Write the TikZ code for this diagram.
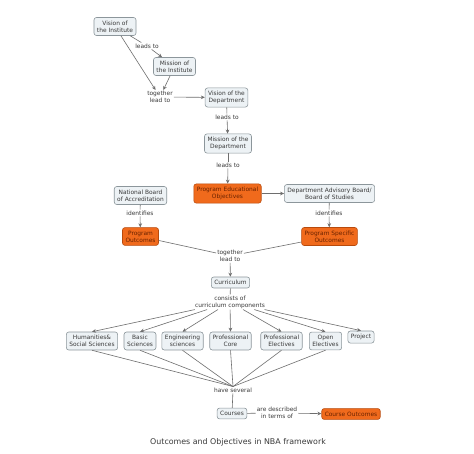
\documentclass[tikz,border=0pt]{standalone}
\usepackage{fontspec}
\setmainfont{DejaVu Sans}
\usepackage{tikz}
\usetikzlibrary{arrows.meta}

\definecolor{cfill}{HTML}{EDF2F5}
\definecolor{cline}{HTML}{8C969B}
\definecolor{ctext}{HTML}{3A3A3A}
\definecolor{corange}{HTML}{F06A1C}
\definecolor{cdorange}{HTML}{B84A0C}
\definecolor{cbrown}{HTML}{6A2200}
\definecolor{cconn}{HTML}{6E6E6E}

\tikzset{
  concept/.style={draw=cline,fill=cfill,rounded corners=2.5pt,line width=0.6pt,
    align=center,inner xsep=3pt,inner ysep=3.2pt,text=ctext,
    font=\fontsize{5.9}{7}\selectfont},
  keyconcept/.style={concept,fill=corange,draw=cdorange,text=cbrown},
  link/.style={align=center,inner sep=1pt,text=ctext,
    font=\fontsize{5.9}{7}\selectfont},
  conn/.style={draw=cconn,line width=0.6pt},
  arr/.style={conn,-{Stealth[length=4pt,width=3.6pt]}}
}

\begin{document}
\begin{tikzpicture}[x=1pt,y=-1pt]
\fill[white] (0,0) rectangle (474,453);
\useasboundingbox (0,0) rectangle (474,453);

% institute and department
\node[concept] (vi) at (115,26.5) {Vision of\\the Institute};
\node[link] (l1) at (147,46) {leads to};
\node[concept] (mi) at (174.5,66.5) {Mission of\\the Institute};
\node[link] (tl1) at (160,97) {together\\lead to};
\node[concept] (vd) at (226.5,97.5) {Vision of the\\Department};
\node[link] (l2) at (227,117) {leads to};
\node[concept] (md) at (228,143.5) {Mission of the\\Department};
\node[link] (l3) at (228,165) {leads to};

% objectives and outcomes
\node[keyconcept] (peo) at (227.5,193.5) {Program Educational\\Objectives};
\node[concept] (nba) at (140.5,195.5) {National Board\\of Accreditation};
\node[link] (id1) at (140,213) {identifies};
\node[keyconcept] (po) at (140.5,236.5) {Program\\Outcomes};
\node[concept] (dab) at (329.5,193.5) {Department Advisory Board/\\Board of Studies};
\node[link] (id2) at (329,213) {identifies};
\node[keyconcept] (pso) at (329.5,236.5) {Program Specific\\Outcomes};
\node[link] (tl2) at (230,256) {together\\lead to};
\node[concept] (cur) at (230.5,282.5) {Curriculum};
\node[link] (cons) at (230,302) {consists of\\curriculum components};

% curriculum components
\node[concept] (hum) at (92,341) {Humanities\&\\Social Sciences};
\node[concept] (bas) at (140,341) {Basic\\Sciences};
\node[concept] (eng) at (182.5,341) {Engineering\\sciences};
\node[concept] (pc) at (230.5,341) {Professional\\Core};
\node[concept] (pe) at (281.5,341) {Professional\\Electives};
\node[concept] (oe) at (325.5,341) {Open\\Electives};
\node[concept] (prj) at (361,337) {Project};

% courses
\node[link] (hs) at (233,390) {have several};
\node[concept] (crs) at (232,413.5) {Courses};
\node[link] (desc) at (277,413) {are described\\in terms of};
\node[keyconcept] (co) at (351,414) {Course Outcomes};

\node[text=ctext,font=\fontsize{7.9}{9.5}\selectfont] (cap) at (238,442)
  {Outcomes and Objectives in NBA framework};

\draw[conn] (vi) -- (l1);
\draw[arr] (l1) -- (mi);
\draw[arr] (vi) -- (tl1);
\draw[arr] (mi) -- (tl1);
\draw[arr] (tl1) -- (vd);
\draw[conn] (vd) -- (l2);
\draw[arr] (l2) -- (md);
\draw[conn] (md) -- (l3);
\draw[arr] (l3) -- (peo);
\draw[arr] (peo) -- (dab);
\draw[conn] (nba) -- (id1);
\draw[arr] (id1) -- (po);
\draw[conn] (dab) -- (id2);
\draw[arr] (id2) -- (pso);
\draw[conn] (po) -- (tl2);
\draw[conn] (pso) -- (tl2);
\draw[arr] (tl2) -- (cur);
\draw[conn] (cur) -- (cons);
\foreach \c in {hum,bas,eng,pc,pe,oe,prj}
  \draw[arr] (cons) -- (\c.north);
\foreach \c in {hum,bas,eng,pc,pe,oe}
  \draw[conn] (\c.south) -- (hs.north);
\draw[conn] (hs) -- (crs);
\draw[conn] (crs) -- (desc);
\draw[arr] (desc) -- (co);
\end{tikzpicture}
\end{document}
